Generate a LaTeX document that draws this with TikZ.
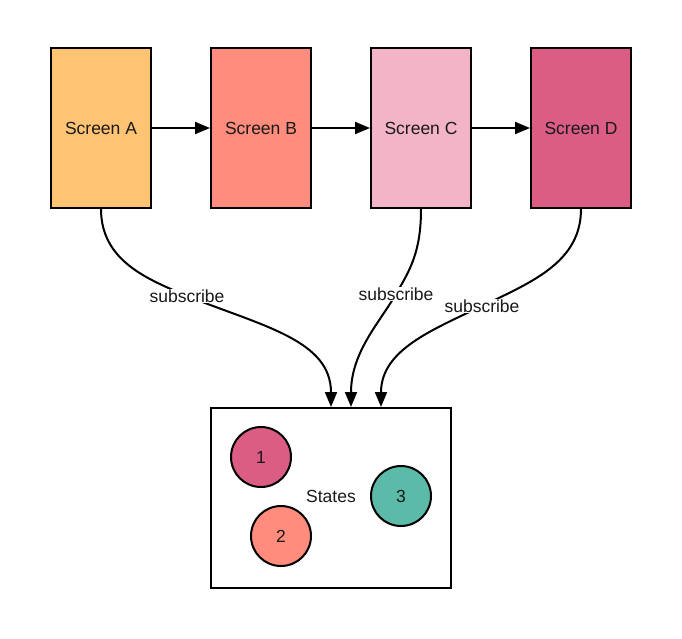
\documentclass[tikz,border=0pt]{standalone}
\usepackage{fontspec}
\setmainfont{Liberation Sans}
\usetikzlibrary{arrows.meta}
\definecolor{cA}{HTML}{FFC374}
\definecolor{cB}{HTML}{FF8C7C}
\definecolor{cC}{HTML}{F4B4C8}
\definecolor{cD}{HTML}{DB5D84}
\definecolor{cT}{HTML}{5BBBA8}
\begin{document}
\begin{tikzpicture}[x=1pt,y=-1pt,
  every node/.style={font=\fontsize{17.5}{20}\selectfont, text=black!90},
  screen/.style={draw, line width=2pt, minimum width=100pt, minimum height=160pt, inner sep=0pt},
  statecirc/.style={draw, circle, line width=2pt, minimum size=60pt, inner sep=0pt},
  conn/.style={line width=2pt, -{Triangle[length=15pt,width=12pt]}},
  lbl/.style={fill=white, inner sep=1pt}]
\useasboundingbox (0,0) rectangle (682,638);
\node[screen, fill=cA] (A) at (101,128) {Screen A};
\node[screen, fill=cB] (B) at (261,128) {Screen B};
\node[screen, fill=cC] (C) at (421,128) {Screen C};
\node[screen, fill=cD] (D) at (581,128) {Screen D};
\node[draw, line width=2pt, minimum width=240pt, minimum height=180pt, inner sep=0pt] (S) at (331,498) {};
\node (st) at (331,496) {States};
\node[statecirc, fill=cD] (s1) at (261,457) {1};
\node[statecirc, fill=cB] (s2) at (281,536) {2};
\node[statecirc, fill=cT] (s3) at (401,496) {3};
\draw[conn] (A) -- (B);
\draw[conn] (B) -- (C);
\draw[conn] (C) -- (D);
\draw[conn] (A.south) .. controls (101,262) and (150,280) .. (187,296) node[lbl]{subscribe}
   .. controls (262,326) and (331,340) .. (S.north);
\draw[conn] (C.south) .. controls (421,252) and (410,270) .. (396,294) node[lbl]{subscribe}
   .. controls (380,322) and (351,352) .. ([xshift=20pt]S.north);
\draw[conn] (D.south) .. controls (581,262) and (532,282) .. (482,306) node[lbl]{subscribe}
   .. controls (432,330) and (381,350) .. ([xshift=50pt]S.north);
\end{tikzpicture}
\end{document}
